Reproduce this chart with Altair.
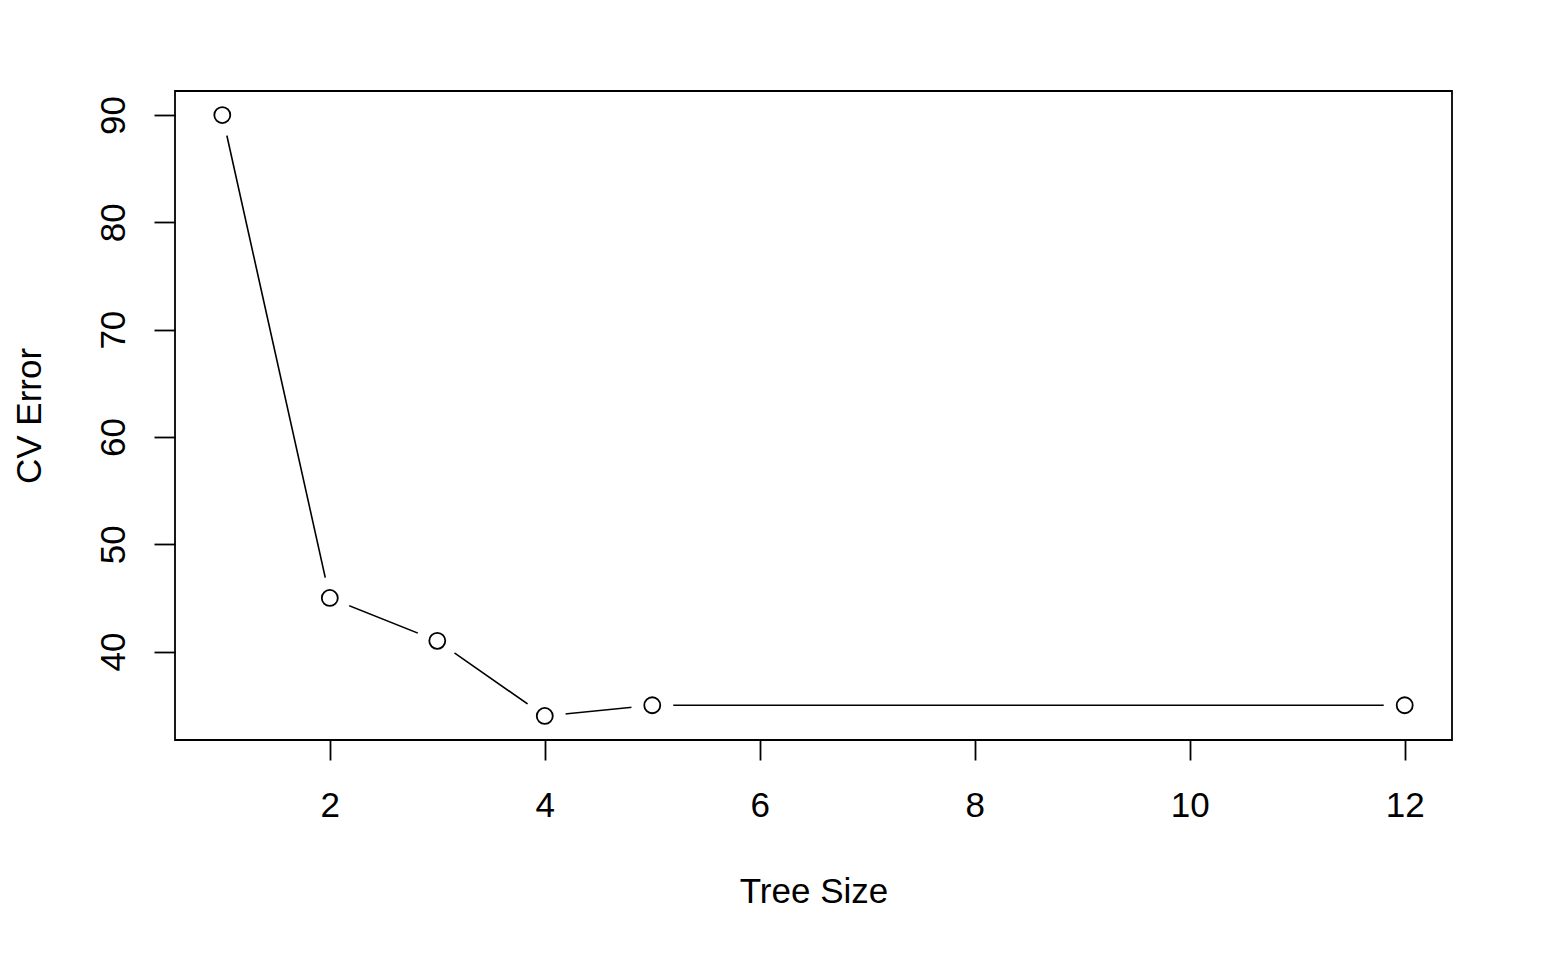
import altair as alt
import pandas as pd

tree_size = [1, 2, 3, 4, 5, 12]
cv_error = [90, 45, 41, 34, 35, 35]
x_ticks = [2, 4, 6, 8, 10, 12]
y_ticks = [40, 50, 60, 70, 80, 90]

df = pd.DataFrame({"size": tree_size, "err": cv_error})

FONT = "Liberation Sans"
FS = 35
W, H = 1277, 649

x = alt.X("size:Q", scale=alt.Scale(domain=[0.56, 12.44], nice=False, zero=False),
          axis=alt.Axis(values=x_ticks, title="Tree Size", grid=False, domain=False,
                        tickSize=20, tickWidth=1.8, tickColor="black",
                        labelFont=FONT, labelFontSize=FS, labelColor="black",
                        labelBaseline="alphabetic", labelPadding=56, labelFlush=False,
                        titleFont=FONT, titleFontSize=FS, titleFontWeight="normal",
                        titleColor="black", titleBaseline="alphabetic",
                        titleX=W / 2, titleY=162, titleAlign="center"))
y = alt.Y("err:Q", scale=alt.Scale(domain=[31.76, 92.24], nice=False, zero=False),
          axis=alt.Axis(values=y_ticks, title="CV Error", grid=False, domain=False,
                        tickSize=21, tickWidth=1.8, tickColor="black",
                        labelFont=FONT, labelFontSize=FS, labelColor="black",
                        labelAngle=270, labelAlign="center", labelBaseline="alphabetic",
                        labelPadding=30, labelFlush=False,
                        titleFont=FONT, titleFontSize=FS, titleFontWeight="normal",
                        titleColor="black", titleAngle=270, titleBaseline="alphabetic",
                        titleAlign="center", titleX=-135, titleY=H / 2))

base = alt.Chart(df)
line = base.mark_line(color="black", strokeWidth=1.6).encode(x=x, y=y)
gaps = base.mark_point(shape="circle", filled=True, color="white", opacity=1,
                       size=1764, strokeWidth=0).encode(x=x, y=y)
pts = base.mark_point(shape="circle", filled=False, color="black", fill="white",
                      fillOpacity=1, size=256, strokeWidth=1.8, opacity=1).encode(x=x, y=y)

chart = alt.layer(line, gaps, pts).properties(
    width=W, height=H,
    autosize=alt.AutoSizeParams(type="none"),
    padding={"left": 167, "top": 83, "right": 90, "bottom": 200},
    background="white",
).configure_view(stroke="black", strokeWidth=1.8)

chart.save("out.html", embed_options={"renderer": "svg", "actions": False})
